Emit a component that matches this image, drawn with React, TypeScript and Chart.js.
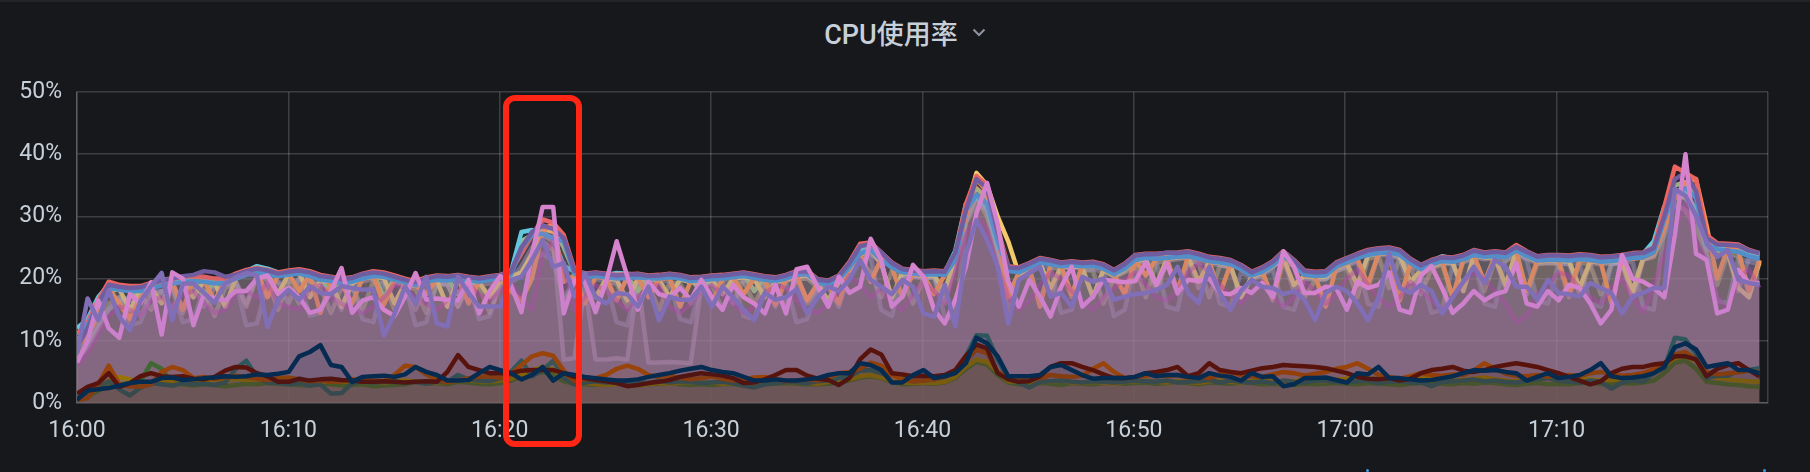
import React, { useEffect, useRef } from "react";
import { Chart, registerables } from "chart.js";

Chart.register(...registerables);

// ---- axis / labels ----
const TITLE = "CPU使用率";
const STEP_MIN = 0.5; // 30s samples starting at 16:00
const X_TICK_LABELS = ["16:00", "16:10", "16:20", "16:30", "16:40", "16:50", "17:00", "17:10"];
const Y_MAX = 50;
const Y_STEP = 10;

// ---- series values (% CPU), 160 samples each, 16:00:00 .. 17:19:30 ----
const PALE_YELLOW = [
  8, 10, 13, 16, 17, 14, 17.5, 15, 18, 18.5, 14.5, 18.8, 18, 14, 18.5, 19.4, 15.5, 20.5, 19.8, 15,
  19.5, 16, 19.8, 18.6, 14.5, 18.6, 18.8, 15, 19.6, 19.4, 15, 18.8, 18.3, 14.5, 19.2, 19, 15.5, 19, 18.8, 14.5,
  19.2, 19.5, 20.5, 24, 26, 24.5, 16, 19.8, 19.5, 15, 19.4, 19.2, 15.5, 19.4, 19.1, 15, 19.4, 19.2, 16, 19,
  19.1, 15, 19.5, 19.6, 16, 19.2, 19, 15.5, 19.9, 20, 18.6, 15.5, 19.4, 21, 23, 21, 17, 21.2, 20.4, 16,
  20, 20.2, 16, 22.5, 29, 33, 30, 24, 18, 20.5, 21, 16.5, 21.8, 21.5, 17, 21.4, 21.3, 16, 20.2, 21,
  22, 17, 22.6, 22.8, 17.5, 23, 22.5, 17, 22.1, 21.8, 17.5, 20, 20.6, 16.5, 22.8, 22, 17, 19.8, 19.9, 21.2,
  21.8, 17, 23.2, 23.6, 18.5, 23.4, 22, 17.5, 21.6, 22.3, 17, 22.8, 23.2, 18, 23, 22.8, 23.8, 17.5, 22.4, 22.5,
  22.4, 17, 22.6, 22.3, 17.5, 22.4, 22.6, 17, 23, 23.5, 27, 32, 31, 28, 24, 19, 24, 23.6, 17.5, 22.5,
];
const PALE_PINK = [
  7, 9, 12, 15, 16.5, 17, 14, 17.8, 18, 15, 18.6, 18.9, 15.5, 18.5, 19, 19.6, 16, 20.4, 20.3, 19.5,
  16, 20.2, 19.6, 19, 18.9, 15, 19, 19.5, 20, 16, 19.4, 18.9, 15, 19, 19.3, 19.2, 15.5, 19.2, 19, 19.2,
  19.4, 19.8, 22, 25, 27, 26, 7, 7.2, 19, 7, 7, 7.2, 7, 20, 6.5, 6.5, 6.6, 6.5, 6.4, 19,
  19.3, 19.5, 16, 19.8, 19.5, 19.3, 15.5, 19.6, 20, 16, 18.8, 18.6, 15.5, 21, 23.4, 24, 22.5, 16.5, 20.6, 20.3,
  20.1, 20.3, 16.5, 22.8, 29.5, 33.5, 31, 25, 17, 20.6, 21.4, 22, 17.5, 21.7, 21.8, 21.6, 17, 21.2, 20.3, 21.2,
  22.4, 22.8, 18, 22.9, 23.1, 23.3, 18.5, 22.4, 22.2, 21.9, 17, 20.1, 20.8, 21.8, 23.2, 18, 20.1, 20, 20, 21.4,
  22.2, 22.9, 18.5, 23.8, 23.8, 23.4, 18, 21.1, 21.9, 22.4, 22.3, 18, 23.4, 23.1, 23.2, 18.5, 24.2, 23.2, 22.4, 22.6,
  22.5, 22.4, 17.5, 22.5, 22.3, 22.4, 22.6, 17, 23.1, 23.6, 28.5, 33, 33.5, 30, 24.8, 24, 23.8, 18, 23.4, 23,
];
const PALE_LAVENDER = [
  7, 9.5, 12.5, 15, 17, 12.5, 13, 17.5, 18, 18.5, 13, 13.5, 18.5, 18.8, 19, 19.5, 12.5, 12.8, 19.5, 19.3,
  19.5, 19.8, 14, 14.5, 19, 18.8, 19, 13.5, 13, 19.8, 19.5, 19, 12.5, 13, 19.2, 19, 19.3, 19, 13.5, 14,
  19.5, 20, 21, 23, 24, 23, 17, 19.6, 19.8, 19.9, 19.7, 13, 12.5, 19.5, 19.4, 19.5, 19.7, 13.5, 13, 18.8,
  19.4, 19.6, 19.8, 14, 13.5, 19.2, 19, 19.5, 13, 13.5, 18.7, 18.5, 19.2, 21, 23, 23.5, 15, 14, 20.5, 20.4,
  20.2, 20.3, 14, 13.5, 29, 32, 31, 25, 14.5, 20.6, 21.3, 22, 21.8, 14.5, 15, 21.4, 21.5, 21.1, 14, 15,
  22.5, 22.8, 22.7, 15.5, 15, 23, 22.6, 22.3, 16, 15.5, 21, 20, 20.6, 21.5, 15.5, 15, 20, 19.8, 19.9, 21.2,
  22, 22.7, 16, 15.5, 23.6, 23.3, 22, 21, 14.5, 15, 22.2, 22.6, 23.2, 16, 15.5, 23, 24, 23, 16.5, 16,
  22.4, 22.3, 22.5, 16, 15.5, 22.3, 22.5, 22.8, 15.5, 15, 28, 33, 33, 30, 24.5, 16.5, 16, 23.3, 22.7, 22.4,
];
const GREEN = [
  10, 12.5, 16, 19, 18.6, 18.4, 16.5, 18.9, 19.4, 19.6, 19.9, 20.1, 17, 19.7, 19.8, 20.5, 21.1, 21.4, 21.1, 20.7,
  20.9, 21, 20.7, 20.1, 17.5, 19.6, 19.8, 20.4, 20.8, 17, 20.1, 19.6, 19.2, 19.8, 20.1, 20, 17.5, 19.9, 19.7, 20,
  20.2, 20.8, 26, 27, 28.5, 28, 25, 21, 20.5, 20.7, 20.5, 20.3, 20.4, 18, 20.2, 20.3, 20.5, 20.3, 19.9, 18,
  20.2, 20.3, 20.5, 20.7, 18, 20.1, 19.9, 20.3, 20.9, 21, 19.6, 19.4, 20.2, 22, 24.2, 25, 23.3, 22.1, 21.3, 21.1,
  20.9, 21, 20.9, 23.8, 31.5, 34.5, 33, 26.5, 21.5, 21.4, 22.2, 23, 22.7, 22.3, 22.5, 22.3, 22.4, 21.9, 21, 22,
  23.4, 23.6, 23.6, 23.7, 23.9, 24.1, 23.6, 23.2, 23, 22.6, 21.8, 20.8, 21.4, 22.4, 24, 22.6, 21, 20.8, 20.9, 22.2,
  23, 23.7, 24.3, 24.7, 24.8, 24.4, 22.9, 21.9, 22.7, 23.3, 23.2, 23.5, 24.2, 23.9, 24, 23.8, 25, 24, 23.2, 23.3,
  23.4, 23.3, 23.5, 23.4, 23.1, 23.2, 23.4, 23.7, 23.9, 24.6, 30.5, 35, 35.5, 33, 26.5, 25.3, 25.1, 24.9, 24.2, 23.9,
];
const YELLOW = [
  9.5, 12, 15.5, 18, 18.3, 15, 18.2, 18.6, 16, 19.4, 19.7, 17, 19.6, 19.4, 15.5, 20, 20.8, 21.2, 20.8, 17.5,
  20.7, 20.9, 17, 19.6, 19.5, 15.5, 19.3, 20, 20.3, 20.1, 16, 19.3, 18.8, 19.4, 19.7, 15.5, 19.8, 19.5, 19.4, 17,
  19.8, 20.3, 21, 24, 28, 27.5, 26.5, 21, 20.1, 17, 20, 19.8, 16.5, 20, 19.9, 19.8, 17, 19.9, 19.4, 19.5,
  19.7, 17.5, 20, 20.2, 19.9, 17, 19.4, 19.8, 20.3, 20.5, 19.1, 16.5, 19.7, 21.5, 23.8, 24.5, 22.5, 17, 20.9, 20.6,
  20.4, 20.5, 18, 23.5, 31, 37, 35, 30, 26, 20.8, 21.6, 22.5, 18.5, 21.9, 22, 21.8, 17, 21.4, 20.5, 21.5,
  22.8, 23.1, 19, 23.2, 23.4, 23.5, 19.5, 22.7, 22.5, 22.2, 17, 20.3, 21, 22, 23.4, 19, 20.4, 20.2, 20.3, 21.7,
  22.4, 19, 23.7, 24, 24.1, 23.7, 19.5, 21.3, 22.1, 22.6, 22.6, 18, 23.7, 23.4, 23.4, 19, 24.4, 23.5, 22.7, 22.9,
  22.8, 22.8, 18.5, 22.8, 22.6, 22.7, 22.8, 18, 23.3, 24, 28.5, 34, 33, 31, 25.6, 24.6, 24.2, 18.5, 17, 22.8,
];
const LIGHT_BLUE = [
  12, 13.5, 17, 19, 18.6, 18.4, 18.5, 19, 19.4, 19.6, 19.9, 20, 19.9, 19.6, 19.7, 20.4, 21.2, 22, 21.6, 21,
  21, 21.2, 20.9, 20.2, 20, 19.7, 19.9, 20.5, 20.9, 20.7, 20.1, 19.7, 19.3, 19.9, 20.2, 20.1, 20.3, 20, 19.8, 20.2,
  20.3, 21, 27.5, 27.8, 27.3, 26.5, 22, 21.2, 20.6, 20.8, 20.6, 20.9, 20.8, 20.6, 20.3, 20.4, 20.6, 20.4, 19.9, 20,
  20.2, 20.4, 20.6, 20.8, 20.5, 20.2, 20, 20.3, 21, 21, 19.6, 19.4, 20.2, 22.2, 24.6, 25, 23.5, 22.2, 21.4, 21.1,
  20.9, 21.1, 21, 24.5, 32, 33, 31.5, 25, 21.5, 21.3, 22.3, 23.2, 22.9, 22.4, 22.5, 22.3, 22.4, 22, 21.1, 22.1,
  23.5, 23.8, 23.8, 23.9, 24, 24.1, 23.7, 23.3, 23, 22.7, 21.9, 20.9, 21.5, 22.5, 24.1, 22.8, 21, 20.8, 20.8, 22.3,
  23, 23.6, 24.3, 24.6, 24.7, 24.3, 23, 22, 22.8, 23.6, 23.2, 23.6, 24.3, 24, 24.1, 23.9, 25.3, 24.1, 23.4, 23.5,
  23.6, 23.4, 23.7, 23.6, 23.3, 23.4, 23.6, 23.9, 24, 26, 31.6, 33, 34, 31, 26, 25, 25.2, 24.8, 24.2, 23.8,
];
const ORANGE = [
  9, 11, 14, 18.5, 16, 13.5, 17, 18.8, 19.3, 19.6, 15, 19.8, 19.7, 16.5, 19.5, 20.2, 21, 21.2, 17, 20.5,
  20.8, 18, 20.6, 14.5, 19.5, 19.2, 16, 20.2, 20.6, 15.8, 19.8, 19.3, 18.9, 17.5, 19.9, 19.8, 20, 16, 19.6, 19.9,
  20, 18, 16.5, 20, 27.5, 29, 19.5, 20.5, 16, 20.3, 20.1, 16.5, 20.3, 20.2, 17, 19.9, 20.1, 15.5, 19.6, 19.7,
  16, 20, 20.2, 17.5, 20.1, 19.8, 15.8, 20, 20.6, 16.5, 19.3, 19.1, 16, 21.7, 24, 19.5, 23.2, 21.8, 17, 20.8,
  20.5, 17.5, 20.6, 23.5, 30, 36, 34, 27, 17, 21, 21.8, 15.5, 22.3, 22, 17.5, 22, 21.9, 21.6, 20.7, 17.5,
  23, 20.5, 23.2, 23.3, 18, 23.6, 23.1, 22.8, 17.5, 22.3, 21.5, 20.5, 21.2, 16.8, 23.5, 22.3, 20.5, 20.4, 15.5, 21.8,
  22.5, 23.2, 19, 24.1, 24.2, 16.5, 22.4, 21.5, 22.3, 22.8, 17, 23.1, 23.8, 19.5, 23.6, 23.4, 24.5, 18, 22.9, 23,
  23, 17.5, 23, 22.9, 22.6, 16, 23, 23.2, 23.4, 24, 28, 33, 35.5, 36, 28.5, 20, 25, 24.5, 18, 23,
];
const RED = [
  11, 13, 16.5, 19.5, 19, 18.8, 18.8, 19.3, 19.8, 20, 20.3, 20.4, 20.3, 20, 20, 20.8, 21.4, 21.7, 21.4, 21,
  21.3, 21.5, 21.2, 20.6, 20.3, 20, 20.2, 20.8, 21.2, 21, 20.5, 20, 19.6, 20.2, 20.5, 20.4, 20.6, 20.3, 20.1, 20.4,
  20.6, 21.2, 24, 27, 29.5, 29, 27, 21.5, 20.8, 21, 20.8, 20.6, 20.7, 20.8, 20.5, 20.6, 20.8, 20.6, 20.2, 20.3,
  20.5, 20.6, 20.8, 21, 20.7, 20.4, 20.2, 20.6, 21.2, 21.3, 19.9, 19.7, 20.5, 22.7, 25.6, 25.8, 24.2, 22.6, 21.6, 21.4,
  21.2, 21.3, 21.2, 24, 32, 36.5, 35, 28, 22, 21.8, 22.5, 23.3, 23, 22.6, 22.8, 22.6, 22.7, 22.3, 21.4, 22.4,
  23.8, 24, 24, 24.1, 24.2, 24.4, 24, 23.5, 23.3, 23, 22.2, 21.1, 21.8, 22.8, 24.4, 23, 21.3, 21.1, 21.2, 22.6,
  23.3, 24, 24.6, 24.9, 25, 24.6, 23.2, 22.2, 23, 23.5, 23.4, 23.8, 24.6, 24.2, 24.4, 24.2, 25.4, 24.4, 23.6, 23.8,
  23.8, 23.7, 23.9, 23.8, 23.5, 23.6, 23.8, 24.1, 24.2, 25, 31.5, 38, 37, 36, 27, 25.7, 25.6, 25.5, 24.6, 24.1,
];
const BLUE = [
  10, 12.5, 16, 18.5, 18.2, 18, 18, 18.4, 18.9, 19.2, 19.4, 19.6, 19.5, 19.2, 19.3, 20, 20.6, 20.9, 20.7, 20.4,
  20.6, 20.8, 20.4, 19.8, 19.6, 19.2, 19.5, 20, 20.4, 20.3, 19.8, 19.4, 18.9, 19.5, 19.8, 19.7, 19.9, 19.7, 19.5, 19.8,
  20, 20.6, 25, 27, 27.2, 26.5, 26, 20.8, 20.2, 20.4, 20.2, 20, 20.1, 20.2, 20, 20, 20.2, 20, 19.6, 19.7,
  19.9, 20, 20.2, 20.4, 20.1, 19.8, 19.6, 20, 20.6, 20.7, 19.3, 19.1, 19.8, 21.8, 24, 24.6, 23, 21.8, 21, 20.8,
  20.6, 20.7, 20.6, 23, 31, 33.5, 32, 26, 21.2, 21, 21.8, 22.6, 22.3, 22, 22.1, 22, 22, 21.6, 20.7, 21.6,
  23, 23.3, 23.2, 23.3, 23.5, 23.6, 23.2, 22.8, 22.6, 22.3, 21.5, 20.5, 21.1, 22.1, 23.6, 22.3, 20.6, 20.4, 20.5, 21.9,
  22.6, 23.3, 23.8, 24.1, 24.2, 23.8, 22.5, 21.5, 22.3, 22.8, 22.7, 23.1, 23.8, 23.5, 23.6, 23.4, 24.5, 23.6, 22.9, 23,
  23, 22.9, 23.1, 23, 22.7, 22.8, 23, 23.3, 23.4, 24.2, 29.5, 34, 34.5, 33, 25.5, 24.7, 24.5, 24.3, 23.6, 23.2,
];
const MAGENTA = [
  6, 8, 11, 14, 15.5, 15, 14, 16.5, 17, 15.5, 17.5, 18, 16, 14.5, 15, 17.5, 18, 17, 19.5, 16,
  15.5, 15, 18.5, 19, 17, 16, 15, 14.5, 15.5, 17, 19, 18.5, 17, 16, 15, 16.5, 18, 19, 17.5, 16.5,
  18, 19.5, 17, 15, 24, 26, 22, 15, 17, 19, 18, 16.5, 15, 17, 18.5, 19, 15.5, 14.5, 16, 18,
  19, 17.5, 16, 14.5, 15.5, 17.5, 19, 18.5, 16.5, 15, 14.5, 16, 18, 20.5, 19, 17, 18.5, 16, 15, 17.5,
  19.5, 18, 16, 21, 27, 30, 28, 22, 17, 15, 16.5, 19, 21, 20, 18, 16.5, 15, 17, 18.5, 20,
  21, 19, 17, 16.5, 18, 21, 22.5, 21, 19, 17.5, 16, 18, 19.5, 17, 15.5, 17, 19.5, 18, 16, 17.5,
  20, 21.5, 19, 17, 15.5, 17, 19.5, 18, 16.5, 15, 17, 19.5, 21, 20, 18, 16, 13, 14, 17.5, 19,
  21, 20.5, 18.5, 17, 16, 18.5, 20, 17, 14.5, 19, 24, 28, 32, 26, 23, 17, 15, 20, 21.5, 18.5,
];
const DARK_VIOLET = [
  9, 12, 16, 19, 18.7, 18.5, 18.6, 19.2, 19.7, 20, 20.4, 20.6, 21.2, 21, 20.3, 20.6, 21.2, 21.6, 21.3, 20.8,
  21.1, 21.3, 21, 20.4, 20.2, 19.9, 20.1, 20.7, 21, 20.8, 20.3, 19.8, 19.4, 20, 20.4, 20.3, 20.5, 20.2, 20, 20.3,
  20.5, 21.1, 25, 27.5, 28.5, 28, 26.5, 21.3, 20.7, 20.9, 20.7, 20.5, 20.6, 20.7, 20.4, 20.5, 20.7, 20.5, 20.1, 20.2,
  20.4, 20.5, 20.7, 20.9, 20.6, 20.3, 20.1, 20.5, 21.1, 21.2, 19.8, 19.6, 20.4, 22.5, 25.2, 25.6, 24.2, 22.5, 21.5, 21.3,
  21.1, 21.2, 21.1, 24.2, 31, 36, 34.5, 27.5, 21.8, 21.7, 22.4, 23.2, 22.9, 22.5, 22.7, 22.5, 22.6, 22.2, 21.3, 22.3,
  23.7, 23.9, 23.9, 24.2, 24.1, 24.3, 23.9, 23.4, 23.2, 22.9, 22.1, 21, 21.7, 22.7, 24.3, 22.9, 21.2, 21, 21.1, 22.5,
  23.2, 23.9, 24.5, 24.8, 24.9, 24.5, 23.1, 22.1, 22.9, 23.4, 23.3, 23.7, 24.5, 24.1, 24.3, 24.1, 25.1, 24.3, 23.5, 23.7,
  23.7, 23.6, 23.8, 23.7, 23.4, 23.5, 23.7, 24, 24.1, 24.9, 30, 36, 37, 34, 26.5, 25.5, 25.4, 25.3, 24.5, 24.1,
];
const PINK = [
  6.5, 10, 16.5, 12, 10.5, 17.5, 16, 19.4, 11, 21, 20, 12.5, 17.5, 16.8, 16.5, 18, 18, 20, 20.5, 17.6,
  18.5, 17, 14.5, 15, 18, 21.7, 14.5, 16.5, 17, 15, 14, 17.1, 20.9, 16.6, 16.8, 16.6, 16.5, 19.8, 14.4, 18,
  20.4, 19, 14.6, 24, 31.5, 31.5, 14.4, 19.8, 19.5, 14.6, 19.5, 26, 20.4, 15, 19.5, 17.5, 17, 18.5, 16.6, 19.8,
  17, 15, 19, 17, 16, 14.4, 19, 14.4, 21.5, 21.9, 18.7, 15.5, 20.3, 17.7, 18.7, 26.4, 23, 15.5, 17.1, 22.2,
  20.3, 15, 12.8, 16.6, 21.9, 30.5, 35.4, 28.8, 19.6, 15.5, 19.8, 17.1, 13.9, 18.7, 21.9, 15.5, 17.1, 19.8, 19.6, 19.4,
  19.6, 22.6, 19, 22.5, 17.7, 19.8, 19.6, 20, 17.7, 17.5, 18.5, 17.7, 19.3, 17, 24.4, 21.9, 17.7, 17.7, 18.7, 18.5,
  15, 19.5, 18.5, 19, 21, 15, 14.5, 20.5, 22, 18.5, 14.5, 16, 18, 16.5, 17.5, 18, 22.5, 16, 15.5, 18,
  16.5, 19, 18.5, 16, 12.8, 15, 23.8, 20, 19.5, 18.5, 17, 27, 40, 24, 23, 14.4, 15, 21.4, 19.3, 19.3,
];
const VIOLET = [
  8, 16.8, 13.3, 18.1, 13.9, 11.7, 16.4, 18.8, 20.9, 13.3, 19.2, 19.2, 17.7, 16.1, 19.2, 20.2, 20.9, 20.5, 12.2, 16.6,
  18.2, 16.6, 18.8, 17.7, 17.5, 18.8, 18.5, 18.2, 18.3, 10.8, 14.3, 18.7, 16, 20.3, 12.8, 12.3, 20.3, 17.7, 15.5, 15.5,
  15.5, 19.8, 20.3, 23, 26.2, 21.9, 22.5, 17.1, 20.9, 17.1, 16, 17.7, 17.5, 15.5, 18.7, 13.3, 17.1, 16.6, 16.6, 18.7,
  15.5, 18.7, 17, 15, 13.3, 17.7, 16.6, 17, 18.3, 14.4, 17, 18.7, 18, 19.8, 23, 19.8, 18.7, 17.5, 19.8, 18.7,
  14.4, 13.9, 19, 12.3, 24, 29.4, 26.2, 21.9, 12.8, 19.8, 20.9, 21.9, 17.1, 17.7, 15.5, 20.3, 19.5, 20, 16.6, 17.1,
  17.5, 17.7, 18.2, 19, 21.9, 17.7, 16.1, 21.9, 17.7, 15, 18, 19.8, 18.7, 18.5, 17.5, 18, 16.6, 13.3, 17.7, 18.7,
  18, 16, 13.3, 17, 24, 18.5, 17.7, 19, 18, 14.4, 17, 19.5, 21.9, 19.3, 23, 21.9, 18.7, 18.7, 16.6, 19.8,
  17.7, 17.5, 17.1, 19.3, 18.5, 17.7, 14.4, 17.1, 17.7, 18.5, 18.5, 34.4, 33.3, 30.1, 25.8, 23.5, 24.6, 19.8, 19.3, 19,
];
const DARK_GREEN = [
  0.5, 1, 2, 2.8, 3, 3.2, 3.5, 6.4, 5.5, 3.2, 3, 2.8, 3, 2.9, 2.7, 2.9, 3.1, 3, 3.2, 3.1,
  3, 2.9, 2.8, 3.1, 3, 2.8, 2.9, 3, 2.7, 2.8, 2.9, 3, 3.4, 3.1, 3.2, 3, 3.4, 3.3, 3.1, 3,
  3.2, 3.6, 4.2, 4.6, 5, 4.5, 3.5, 3.1, 3, 2.9, 3.1, 3.3, 3.5, 3.2, 3, 3.1, 3.2, 3, 2.9, 3,
  2.9, 3, 3.1, 2.8, 2.9, 3, 3.1, 3.2, 3.1, 3, 3, 3.1, 3.3, 3.6, 4.1, 4.3, 4, 3.4, 3, 3.1,
  3.2, 3.1, 3.3, 4, 5.5, 6.6, 6.2, 4.5, 3.3, 3, 2.9, 3.2, 3.1, 2.9, 3.2, 3.1, 3, 3.2, 3.3, 3.1,
  3.2, 3.3, 3.1, 3.2, 3.4, 3.2, 3, 3.3, 3.2, 3.1, 3.3, 3.2, 3, 3.1, 3, 2.9, 3.1, 3, 3.1, 3.2,
  3.1, 3, 3.2, 3.1, 3, 2.9, 3.1, 3.2, 3.3, 3.1, 3, 3.2, 3.1, 3.3, 3.2, 3, 2.9, 3.1, 3.2, 3,
  3.1, 3, 3.2, 3.3, 3.1, 3, 3.2, 3.1, 3.3, 3.6, 4.8, 6.5, 6.8, 5.5, 3.4, 3.2, 3, 2.9, 2.7, 2.6,
];
const DARK_YELLOW = [
  0.4, 1.2, 2.4, 3.6, 4.2, 3.8, 3.3, 3.2, 3.6, 3.4, 3.3, 3.5, 3.7, 3.8, 3.6, 3.9, 3.7, 3.8, 3.6, 3.5,
  3.6, 3.4, 3.5, 3.3, 3.6, 3.4, 3.5, 3.6, 3.4, 3.3, 3.5, 3.6, 3.4, 3.5, 3.3, 3.4, 3.6, 3.7, 3.5, 3.4,
  3.6, 3.9, 4.5, 5.2, 5.8, 5.4, 4.3, 3.5, 3.2, 3, 2.9, 3.1, 3.3, 2.8, 3, 3.2, 3.1, 3.3, 3.4, 3.2,
  3.3, 3.1, 3.2, 3.4, 3.2, 3.3, 3.5, 3.4, 3.2, 3.3, 3.1, 3.4, 3.6, 3.8, 4.3, 4.5, 4.1, 3.5, 3.3, 3.2,
  3.3, 3.2, 3.4, 4.2, 5.8, 7, 6.6, 5, 3.5, 3.4, 3.3, 3.5, 3.4, 3.6, 3.3, 3.2, 3.4, 3.3, 3.1, 3.4,
  3.5, 3.6, 3.4, 3.3, 3.5, 3.4, 3.2, 3.5, 3.6, 3.4, 3.3, 3.5, 3.7, 3.4, 3.3, 3.5, 3.8, 3.6, 3.4, 3.7,
  3.9, 4.2, 4, 3.8, 3.6, 3.5, 3.7, 3.9, 4, 3.8, 3.6, 3.7, 3.9, 4.1, 3.8, 3.6, 3.5, 3.7, 3.9, 4.2,
  4.5, 4.3, 4, 3.8, 3.6, 3.7, 3.9, 4.3, 4.6, 5.2, 6, 7.2, 7.5, 6.8, 4.5, 4, 3.8, 3.6, 3.5, 3.4,
];
const DARK_TEAL = [
  0.8, 1.5, 2.5, 3.5, 2.2, 1.2, 2.5, 3.2, 3, 2.8, 3.2, 3, 3.1, 2.9, 3.3, 5.5, 6.8, 4.2, 3.3, 3.2,
  3, 3.2, 2.8, 3, 1.5, 1.6, 3.2, 3.5, 3.3, 3.4, 3.5, 3.2, 3.4, 3.1, 3.5, 3.4, 4.5, 3.8, 3.6, 3.5,
  4, 5, 6.8, 4.3, 5.3, 6.8, 4, 3, 3.3, 3.5, 3.3, 3.4, 3.2, 3.3, 3.2, 3.6, 3.3, 3.5, 3.4, 3.2,
  3.3, 3.4, 3.2, 2.8, 2.5, 3, 3.2, 3.4, 3.3, 3.2, 3.5, 3.6, 4, 4.2, 5.2, 5.3, 4.8, 4.6, 4, 3.5,
  3.6, 3.8, 4.2, 5, 7.5, 10.9, 10.8, 7, 4, 3.3, 2.5, 3.4, 3.5, 3.6, 3.4, 3.3, 3.5, 3.4, 3.3, 3.4,
  3.6, 3.5, 3.4, 3.6, 3.3, 3.4, 3.5, 3.7, 3.3, 3.6, 3.4, 3.3, 3.5, 3.2, 3.6, 3.4, 3.3, 3.6, 3.5, 3.4,
  3.3, 3.5, 3.6, 3.2, 3.4, 3.5, 3.3, 3.3, 2.7, 3.4, 3.5, 3.6, 3.8, 3.5, 3.6, 3.4, 3.3, 3.6, 3.8, 4,
  3.6, 3.4, 3.3, 3.6, 3.4, 2.3, 3.3, 3.6, 3.4, 4.8, 5.6, 10.5, 10.2, 8, 4, 4.4, 4.4, 5.2, 5.3, 5.6,
];
const DARK_ORANGE = [
  0.5, 0.8, 3, 6, 3, 2.7, 2.6, 3, 5, 5.8, 5.3, 4, 4.2, 3.9, 4.1, 4.4, 4.2, 3.9, 3.7, 4,
  4.1, 3.8, 3.5, 3.6, 3.4, 3.5, 3.8, 3.7, 3.6, 3.5, 4.5, 6, 5.8, 4.6, 3.8, 3.3, 3.6, 4, 4.2, 4.3,
  4, 4.6, 6.1, 7.5, 8, 7.6, 5.2, 3.5, 3.8, 4, 4.5, 5.5, 6, 5.5, 4.5, 4.2, 4.4, 4, 3.8, 4,
  4.3, 3.9, 3.6, 3.8, 4.1, 4.2, 3.9, 3.5, 3.6, 3.8, 3.6, 4, 4.8, 5, 5.5, 6.5, 6, 4.5, 3.8, 3.5,
  3.6, 3.8, 4.2, 5.2, 6.8, 8.6, 8, 5, 4.2, 4, 3.8, 4, 4.5, 4.3, 4.2, 4.4, 5.5, 6.4, 5, 4,
  4.2, 4.4, 4.6, 4.3, 4.5, 4.1, 4.3, 4, 4.6, 5, 4.5, 4.3, 4.2, 4.6, 5, 4.8, 4.4, 4.7, 5, 5.5,
  5.8, 6.4, 5.5, 4.5, 4.2, 3.9, 4.3, 4.8, 4.5, 4.4, 4.6, 4.5, 5.2, 6.4, 5.5, 4.7, 4.4, 4.3, 4.5, 4.2,
  4.4, 4.5, 4.3, 4.8, 5, 4.6, 4.4, 4.5, 4.8, 5.4, 6, 7.8, 8.2, 7, 5, 4.6, 4.8, 4.9, 5.2, 5,
];
const DARK_RED = [
  1.5, 2.6, 3.2, 4.8, 2.6, 3.2, 4.3, 4.8, 4.3, 4.2, 4.3, 3.9, 3.8, 4.2, 5.2, 5.8, 5.7, 4.8, 4.3, 3.4,
  3.4, 3.9, 3.6, 3.8, 3.9, 3.7, 3.6, 3.4, 3.4, 3.5, 3.4, 3.3, 3.4, 3.5, 3.4, 5, 7.7, 5.8, 5.3, 4.8,
  4.8, 4.8, 5.2, 5.3, 5.3, 5.3, 4.8, 4.2, 4, 3.7, 3.5, 3.2, 2.7, 2.9, 3.2, 3.4, 3.7, 4.2, 4.5, 4.8,
  4.6, 4.4, 4, 3.2, 3.3, 3.8, 4.5, 5.3, 5.3, 4.4, 3.9, 3.7, 2.9, 4, 7, 8.6, 7.8, 4.8, 4.6, 4.3,
  4.4, 4.3, 4.5, 5.3, 7.6, 9.4, 8.8, 4.8, 3.8, 3.4, 3.5, 4.3, 5.8, 6.4, 6.4, 5.8, 5.3, 4.6, 4, 4,
  4.2, 4.8, 5, 5.3, 5.8, 4.3, 4.8, 6.4, 5.3, 5, 4.8, 5.2, 5.6, 5.8, 6.1, 6, 5.9, 5.8, 5.6, 5.2,
  4.8, 4.2, 3.9, 3.8, 4, 3.6, 3.9, 4.8, 5.3, 5.5, 5.8, 5.2, 5, 5.3, 5.8, 6.1, 6.4, 6.1, 5.8, 5.3,
  4.8, 4.2, 3.6, 3, 3.5, 4.8, 5.5, 5.8, 5.8, 6.2, 6.4, 7.5, 7.5, 7, 4.3, 5.5, 6.1, 6.4, 5.3, 4.3,
];
const NAVY = [
  0.5, 2, 2.2, 2.4, 2.8, 3.2, 3.4, 3.4, 4, 4.1, 3.7, 3.8, 4, 4.1, 4.3, 4.2, 4.3, 4.6, 4.5, 4.7,
  5, 7.5, 8.2, 9.3, 6.1, 5.8, 3.4, 4.2, 4.3, 4.4, 4.2, 4.6, 5.8, 5, 4.5, 3.6, 3.6, 3.7, 4.8, 5.8,
  5.3, 4.8, 3.8, 4.5, 5.8, 3.6, 4.8, 4.5, 4.2, 4, 3.8, 3.6, 3.6, 3.8, 4.2, 4.5, 4.8, 5.2, 5.5, 5.8,
  5.3, 5, 4.8, 4.2, 3.6, 3.6, 3.8, 3.6, 3.6, 3.8, 4, 4.5, 4.8, 4.8, 6.4, 6.1, 5.3, 3.3, 3.3, 4.5,
  5.3, 4, 4.3, 4.8, 6.4, 10.5, 9.6, 7.5, 4.3, 4.3, 4.3, 4.5, 5.8, 6.1, 5.3, 4.5, 3.9, 4, 4, 4,
  4.2, 4.8, 4.3, 4.5, 4.5, 4.2, 4, 4.8, 4.4, 4.2, 3.6, 4.8, 4.2, 4.3, 2.7, 3, 4, 4, 4.1, 3.7,
  3.3, 4.8, 4.6, 5.8, 4, 4, 3.8, 3.6, 3.7, 4, 4.3, 4.8, 5.3, 5.2, 5.3, 5, 4.8, 3.6, 4.2, 4.8,
  4, 4.2, 4.5, 5.3, 6.4, 4.3, 4, 4.1, 4.3, 4.8, 5.8, 9, 9.6, 8.6, 5.8, 6.1, 6.4, 5.3, 5.3, 4.8,
];

// drawn top-most first (Chart.js draws dataset 0 last); "faded" = line sits under later fills
const SERIES = [
  { name: "host-18", color: "#052B51", values: NAVY, faded: false },
  { name: "host-17", color: "#58140C", values: DARK_RED, faded: false },
  { name: "host-16", color: "#99440A", values: DARK_ORANGE, faded: false },
  { name: "host-15", color: "#2F575E", values: DARK_TEAL, faded: false },
  { name: "host-14", color: "#967302", values: DARK_YELLOW, faded: false },
  { name: "host-13", color: "#3F6833", values: DARK_GREEN, faded: false },
  { name: "host-12", color: "#806EB7", values: VIOLET, faded: false },
  { name: "host-11", color: "#D683CE", values: PINK, faded: false },
  { name: "host-10", color: "#705DA0", values: DARK_VIOLET, faded: false },
  { name: "host-09", color: "#BA43A9", values: MAGENTA, faded: true },
  { name: "host-08", color: "#5195CE", values: BLUE, faded: false },
  { name: "host-07", color: "#EA6460", values: RED, faded: false },
  { name: "host-06", color: "#F9934E", values: ORANGE, faded: false },
  { name: "host-05", color: "#65C5DB", values: LIGHT_BLUE, faded: false },
  { name: "host-04", color: "#F2C96D", values: YELLOW, faded: false },
  { name: "host-03", color: "#9AC48A", values: GREEN, faded: false },
  { name: "host-02", color: "#AEA2E0", values: PALE_LAVENDER, faded: true },
  { name: "host-01", color: "#E5A8E2", values: PALE_PINK, faded: true },
  { name: "host-00", color: "#F4D598", values: PALE_YELLOW, faded: true },
];

const BG = "#17181c";
const TEXT = "#c7d0d9";
const GRID = "rgba(255,255,255,0.17)";

function hexA(hex: string, a: number) {
  const n = parseInt(hex.slice(1), 16);
  return `rgba(${(n >> 16) & 255},${(n >> 8) & 255},${n & 255},${a})`;
}

export default function App() {
  const ref = useRef<HTMLCanvasElement | null>(null);

  useEffect(() => {
    if (!ref.current) return;
    const chart = new Chart(ref.current, {
      type: "line",
      data: {
        datasets: SERIES.map((s) => ({
          label: s.name,
          data: s.values.map((v, i) => ({ x: i * STEP_MIN, y: v })),
          borderColor: s.faded ? hexA(s.color, 0.45) : s.color,
          backgroundColor: hexA(s.color, 0.1),
          borderWidth: 4.5,
          fill: "origin",
          pointRadius: 0,
          tension: 0,
          borderJoinStyle: "round" as const,
        })),
      },
      options: {
        animation: false,
        responsive: false,
        devicePixelRatio: 1,
        events: [],
        layout: { padding: { top: 92, right: 42, left: 0, bottom: 0 } },
        plugins: { legend: { display: false }, tooltip: { enabled: false }, title: { display: false } },
        scales: {
          x: {
            type: "linear",
            min: 0,
            max: 79.9,
            afterFit: (scale: any) => {
              scale.height = 69;
            },
            grid: { color: GRID, lineWidth: 1.5, drawTicks: false },
            border: { color: GRID, width: 1.5 },
            ticks: {
              stepSize: 10,
              includeBounds: false,
              autoSkip: false,
              maxRotation: 0,
              padding: 14,
              color: TEXT,
              font: { family: "Roboto", size: 23 },
              callback: (v: any) => X_TICK_LABELS[Math.round(Number(v) / 10)] ?? "",
            },
          },
          y: {
            min: 0,
            max: Y_MAX,
            afterFit: (scale: any) => {
              scale.width = 77;
            },
            grid: { color: GRID, lineWidth: 1.5, drawTicks: false },
            border: { color: GRID, width: 1.5 },
            ticks: {
              stepSize: Y_STEP,
              padding: 15,
              color: TEXT,
              font: { family: "Roboto", size: 23 },
              callback: (v: any) => `${v}%`,
            },
          },
        },
      },
    });
    return () => chart.destroy();
  }, []);

  return (
    <div
      style={{
        position: "fixed",
        left: 0,
        top: 0,
        width: 1810,
        height: 472,
        background: BG,
        overflow: "hidden",
      }}
    >
      <div style={{ position: "absolute", left: 0, top: 0, width: 1810, height: 2, background: "#232428" }} />
      <div
        style={{
          position: "absolute",
          left: 0,
          top: 14,
          width: 1810,
          height: 36,
          display: "flex",
          justifyContent: "center",
          alignItems: "center",
          gap: 14,
        }}
      >
        <span style={{ font: '500 27px Roboto, "Noto Sans CJK SC"', color: TEXT, whiteSpace: "nowrap" }}>{TITLE}</span>
        <svg width="14" height="9" style={{ display: "block" }}>
          <polyline points="1.5,1.5 7,7 12.5,1.5" fill="none" stroke="#8f959e" strokeWidth="2" />
        </svg>
      </div>
      <canvas ref={ref} width={1810} height={472} style={{ position: "absolute", left: 0, top: 0, display: "block" }} />
      <div
        style={{
          position: "absolute",
          left: 503,
          top: 95,
          width: 79,
          height: 352,
          border: "6px solid #ff2616",
          borderRadius: 12,
          boxSizing: "border-box",
        }}
      />
      <div style={{ position: "absolute", left: 1366, top: 469, width: 3, height: 3, borderRadius: 2, background: "#3d9ee0" }} />
      <div style={{ position: "absolute", left: 1763, top: 469, width: 3, height: 3, borderRadius: 2, background: "#3d9ee0" }} />
    </div>
  );
}
